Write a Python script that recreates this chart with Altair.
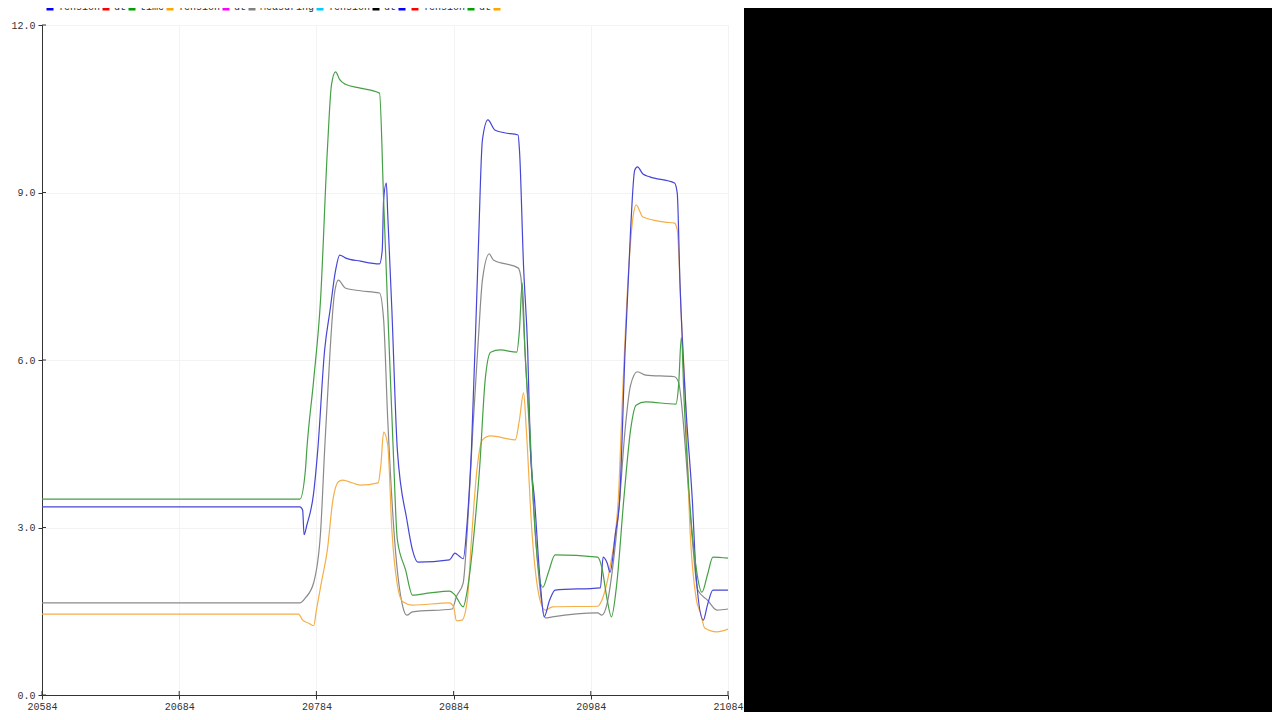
import altair as alt
import pandas as pd

# ---- data (time, value) ----
green = [(20584, 3.51), (20772, 3.51), (20776, 4.03), (20777, 4.39), (20782, 5.64), (20787, 7.07),
         (20792, 9.76), (20795, 10.93), (20798, 11.16), (20801, 11.02), (20805, 10.94), (20816, 10.87),
         (20830, 10.78), (20833, 8.87), (20836, 6.90), (20840, 4.39), (20843, 2.78), (20849, 2.24),
         (20854, 1.79), (20867, 1.83), (20881, 1.86), (20885, 1.79), (20891, 1.58), (20894, 1.88),
         (20900, 3.19), (20903, 4.08), (20907, 5.64), (20911, 6.14), (20918, 6.18), (20930, 6.14),
         (20932, 6.54), (20934, 7.38), (20936, 6.18), (20940, 4.57), (20942, 3.49), (20949, 1.93),
         (20953, 2.19), (20958, 2.51), (20989, 2.47), (20992, 2.29), (20996, 1.70), (20999, 1.40),
         (21003, 2.01), (21008, 3.49), (21013, 4.75), (21017, 5.19), (21024, 5.25), (21046, 5.21),
         (21048, 5.55), (21050, 6.41), (21052, 5.28), (21056, 3.49), (21061, 2.24), (21065, 1.84),
         (21069, 2.15), (21073, 2.47), (21084, 2.45)]

blue = [(20584, 3.37), (20772, 3.37), (20774, 3.31), (20775, 2.87), (20777, 3.04), (20782, 3.62),
        (20785, 4.39), (20790, 6.18), (20794, 6.90), (20798, 7.61), (20801, 7.88), (20805, 7.83),
        (20816, 7.77), (20830, 7.72), (20832, 7.97), (20833, 8.87), (20835, 9.17), (20836, 8.60),
        (20839, 6.90), (20843, 4.39), (20850, 3.13), (20854, 2.60), (20858, 2.38), (20881, 2.42),
        (20885, 2.54), (20888, 2.49), (20891, 2.44), (20894, 3.13), (20897, 4.39), (20902, 7.97),
        (20905, 9.94), (20909, 10.30), (20914, 10.12), (20921, 10.07), (20931, 10.03), (20932, 9.76),
        (20935, 7.67), (20938, 6.18), (20940, 4.39), (20943, 3.49), (20947, 2.06), (20950, 1.40),
        (20954, 1.70), (20958, 1.88), (20991, 1.92), (20993, 2.47), (20996, 2.36), (20998, 2.20),
        (21002, 2.90), (21005, 3.49), (21009, 6.18), (21013, 8.33), (21016, 9.40), (21018, 9.46),
        (21022, 9.33), (21027, 9.28), (21045, 9.17), (21047, 8.99), (21049, 7.38), (21053, 5.28),
        (21058, 3.49), (21061, 2.06), (21066, 1.34), (21069, 1.61), (21073, 1.88), (21084, 1.88)]

gray = [(20584, 1.65), (20772, 1.65), (20776, 1.74), (20782, 2.01), (20787, 2.90), (20790, 4.39),
        (20794, 6.18), (20797, 7.16), (20800, 7.43), (20805, 7.29), (20816, 7.24), (20830, 7.20),
        (20833, 6.72), (20836, 4.93), (20841, 2.78), (20847, 1.58), (20850, 1.43), (20854, 1.49),
        (20883, 1.54), (20886, 1.76), (20891, 2.01), (20894, 2.96), (20898, 4.75), (20902, 6.36),
        (20905, 7.43), (20910, 7.90), (20913, 7.79), (20931, 7.65), (20933, 7.49), (20936, 6.18),
        (20940, 4.39), (20945, 2.42), (20951, 1.38), (20956, 1.40), (20989, 1.47), (20992, 1.43),
        (20996, 1.65), (21000, 2.29), (21005, 3.49), (21009, 4.75), (21013, 5.55), (21018, 5.79),
        (21024, 5.73), (21045, 5.70), (21048, 5.60), (21051, 5.00), (21053, 4.39), (21058, 2.78),
        (21062, 1.88), (21069, 1.70), (21076, 1.52), (21084, 1.54)]

orange = [(20584, 1.45), (20771, 1.45), (20774, 1.34), (20778, 1.29), (20782, 1.24), (20784, 1.52),
          (20788, 2.06), (20792, 2.60), (20796, 3.49), (20800, 3.82), (20803, 3.85), (20816, 3.76),
          (20829, 3.80), (20831, 4.12), (20833, 4.71), (20836, 4.48), (20839, 2.96), (20843, 1.97),
          (20847, 1.67), (20854, 1.61), (20881, 1.65), (20884, 1.58), (20886, 1.33), (20890, 1.34),
          (20894, 1.70), (20897, 2.78), (20901, 4.03), (20905, 4.57), (20911, 4.64), (20929, 4.57),
          (20932, 4.93), (20935, 5.41), (20937, 4.75), (20941, 2.96), (20947, 1.70), (20951, 1.52),
          (20956, 1.58), (20989, 1.59), (20993, 1.76), (20998, 2.29), (21004, 3.49), (21007, 5.28),
          (21011, 7.38), (21015, 8.60), (21017, 8.78), (21022, 8.56), (21038, 8.47), (21045, 8.45),
          (21047, 8.33), (21050, 6.77), (21053, 5.28), (21056, 3.13), (21061, 1.70), (21064, 1.47),
          (21067, 1.20), (21076, 1.13), (21084, 1.18)]

series_names = ["Measuring", "dt", "Tension", "time"]
series_colors = ["#8a8a8a", "#f5ae48", "#4646d6", "#45a045"]
series_data = [gray, orange, blue, green]

x_ticks = [20584, 20684, 20784, 20884, 20984, 21084]
y_ticks = [0, 3, 6, 9, 12]

legend_labels = ["Tension", "dt", "time", "Tension", "dt", "Measuring",
                 "Tension", "dt", "", "Tension", "dt", ""]
legend_colors = ["#0000ff", "#ff0000", "#00a000", "#ffa500", "#ff00ff", "#808080",
                 "#00ccff", "#000000", "#0000ff", "#ff0000", "#00a000", "#ffa500"]

# ---- tables ----
rows = []
for name, pts in zip(series_names, series_data):
    for i, (t, v) in enumerate(pts):
        rows.append({"series": name, "t": t, "v": v, "i": i})
df = pd.DataFrame(rows)
legend_keys = [f"{i:02d}{lab}" for i, lab in enumerate(legend_labels)]

FONT = "Liberation Mono"
xscale = alt.Scale(domain=[x_ticks[0], x_ticks[-1]], nice=False, zero=False)
yscale = alt.Scale(domain=[y_ticks[0], y_ticks[-1]], nice=False)

lines = alt.Chart(df).mark_line(strokeWidth=1.2, clip=True, interpolate="monotone").encode(
    x=alt.X("t:Q", scale=xscale, title=None,
            axis=alt.Axis(values=x_ticks, format="d", labelFont=FONT, labelFontSize=10,
                          labelColor="#333333", tickSize=4, tickColor="#333333",
                          domainColor="#333333", grid=True, gridColor="#f3f3f3",
                          labelPadding=2, labelOverlap=False, labelFlush=False, labelBound=False)),
    y=alt.Y("v:Q", scale=yscale, title=None,
            axis=alt.Axis(values=y_ticks, format=".1f", labelFont=FONT, labelFontSize=10,
                          labelColor="#333333", tickSize=4, tickColor="#333333",
                          domainColor="#333333", grid=True, gridColor="#f3f3f3",
                          labelPadding=3, labelOverlap=False, labelFlush=False)),
    color=alt.Color("series:N", scale=alt.Scale(domain=series_names, range=series_colors), legend=None),
    order="i:Q",
)

xt = alt.Chart(pd.DataFrame({"t": x_ticks})).mark_rule(color="#333333").encode(
    x=alt.X("t:Q", scale=xscale), y=alt.value(666), y2=alt.value(670))
yt = alt.Chart(pd.DataFrame({"v": y_ticks})).mark_rule(color="#333333").encode(
    y=alt.Y("v:Q", scale=yscale), x=alt.value(0), x2=alt.value(4))

legend_layer = alt.Chart(pd.DataFrame({"item": legend_keys})).mark_square().encode(
    color=alt.Color("item:N", scale=alt.Scale(domain=legend_keys, range=legend_colors),
                    legend=alt.Legend(orient="none", legendX=3, legendY=-23, direction="horizontal",
                                      columns=12, symbolType="square", symbolSize=49,
                                      symbolStrokeWidth=0, symbolOpacity=1, labelFont=FONT,
                                      labelFontSize=10, labelColor="#333333", columnPadding=0,
                                      labelOffset=3, padding=0, title=None,
                                      labelExpr="substring(datum.label, 2)"))
).transform_filter("false")

panel = alt.Chart(pd.DataFrame({"a": [0]})).mark_rect(color="black", clip=False).encode(
    x=alt.value(702), x2=alt.value(1240), y=alt.value(-20), y2=alt.value(720))

chart = alt.layer(lines, xt, yt, legend_layer, panel).resolve_scale(color="independent").properties(
    width=686, height=670,
    autosize=alt.AutoSizeParams(type="none"),
    padding={"left": 34, "top": 17, "right": 544, "bottom": 17},
    background="white",
).configure_view(strokeWidth=0)

chart.save("out.html", embed_options={"renderer": "svg", "actions": False})
